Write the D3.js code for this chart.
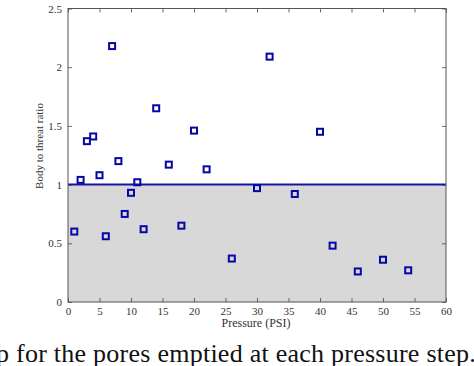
<!DOCTYPE html>
<html>
<head>
<meta charset="utf-8">
<script src="https://cdn.jsdelivr.net/npm/d3@7"></script>
<style>
  body { margin: 0; background: #fff; }
  svg { display: block; font-family: "Liberation Serif", "DejaVu Serif", serif; }
</style>
</head>
<body>
<div id="plot"></div>
<script>
// Pressure steps (PSI) and body to throat ratios
var pressure = [1, 2, 3, 4, 5, 6, 7, 8, 9, 10, 11, 12, 14, 16, 18, 20, 22, 26, 30, 32, 36, 40, 42, 46, 50, 54];
var ratio = [0.60, 1.04, 1.37, 1.41, 1.08, 0.56, 2.18, 1.20, 0.75, 0.93, 1.02, 0.62, 1.65, 1.17, 0.65, 1.46, 1.13, 0.37, 0.97, 2.09, 0.92, 1.45, 0.48, 0.26, 0.36, 0.27];
var x_ticks = [0, 5, 10, 15, 20, 25, 30, 35, 40, 45, 50, 55, 60];
var y_ticks = [0, 0.5, 1, 1.5, 2, 2.5];
var threshold = 1;

var width = 474, height = 366;
var m_left = 68, m_right = 446, m_top = 8.5, m_bottom = 302;

var svg = d3.select("div#plot").append("svg")
    .attr("width", width)
    .attr("height", height);

var x_scale = d3.scaleLinear().domain([0, 60]).range([m_left, m_right]);
var y_scale = d3.scaleLinear().domain([0, 2.5]).range([m_bottom, m_top]);

// Shaded region below the threshold
svg.append("rect")
    .attr("x", x_scale(0))
    .attr("y", y_scale(threshold))
    .attr("width", x_scale(60) - x_scale(0))
    .attr("height", y_scale(0) - y_scale(threshold))
    .style("fill", "#d8d8d8");

// Axes, ticks pointing inward
var fmt = d3.format("");
function style_axis(g) {
    g.select(".domain").remove();
    g.selectAll("line").style("stroke", "#444").style("stroke-width", 0.8);
    g.selectAll("text").style("font-family", "Liberation Serif, serif").style("font-size", "11px").style("fill", "#333");
}

svg.append("g")
    .attr("transform", "translate(0," + m_bottom + ")")
    .call(d3.axisBottom(x_scale).tickValues(x_ticks).tickSize(-4).tickPadding(5).tickFormat(fmt))
    .call(style_axis);
svg.append("g")
    .attr("transform", "translate(0," + m_top + ")")
    .call(d3.axisTop(x_scale).tickValues(x_ticks).tickSize(-4).tickFormat(""))
    .call(style_axis);
svg.append("g")
    .attr("transform", "translate(" + m_left + ",0)")
    .call(d3.axisLeft(y_scale).tickValues(y_ticks).tickSize(-4).tickPadding(6).tickFormat(fmt))
    .call(style_axis);
svg.append("g")
    .attr("transform", "translate(" + m_right + ",0)")
    .call(d3.axisRight(y_scale).tickValues(y_ticks).tickSize(-4).tickFormat(""))
    .call(style_axis);

// Threshold line
svg.append("line")
    .attr("x1", x_scale(0))
    .attr("x2", x_scale(60))
    .attr("y1", y_scale(threshold))
    .attr("y2", y_scale(threshold))
    .style("stroke", "#1515a0")
    .style("stroke-width", 2);

// Box
svg.append("rect")
    .attr("x", m_left)
    .attr("y", m_top)
    .attr("width", m_right - m_left)
    .attr("height", m_bottom - m_top)
    .style("fill", "none")
    .style("stroke", "#555")
    .style("stroke-width", 1);

// Square markers
var data = d3.range(pressure.length).map(function(i) {
    return { x: pressure[i], y: ratio[i] };
});
svg.append("g").selectAll("rect")
    .data(data)
    .join("rect")
        .attr("x", d => x_scale(d.x) - 3)
        .attr("y", d => y_scale(d.y) - 3)
        .attr("width", 6)
        .attr("height", 6)
        .style("fill", "none")
        .style("stroke", "#0606a8")
        .style("stroke-width", 2);

// Axis labels
svg.append("text")
    .attr("x", 256)
    .attr("y", 327)
    .attr("text-anchor", "middle")
    .style("font-size", "12px")
    .style("fill", "#333")
    .text("Pressure (PSI)");

svg.append("text")
    .attr("transform", "translate(43,146) rotate(-90)")
    .attr("text-anchor", "middle")
    .style("font-size", "11px")
    .style("fill", "#333")
    .text("Body to threat ratio");

// Caption fragment beneath the figure
svg.append("text")
    .attr("x", -4)
    .attr("y", 362)
    .style("font-size", "26px")
    .style("letter-spacing", "0.25px")
    .style("fill", "#111")
    .text("p for the pores emptied at each pressure step.");
</script>
</body>
</html>
